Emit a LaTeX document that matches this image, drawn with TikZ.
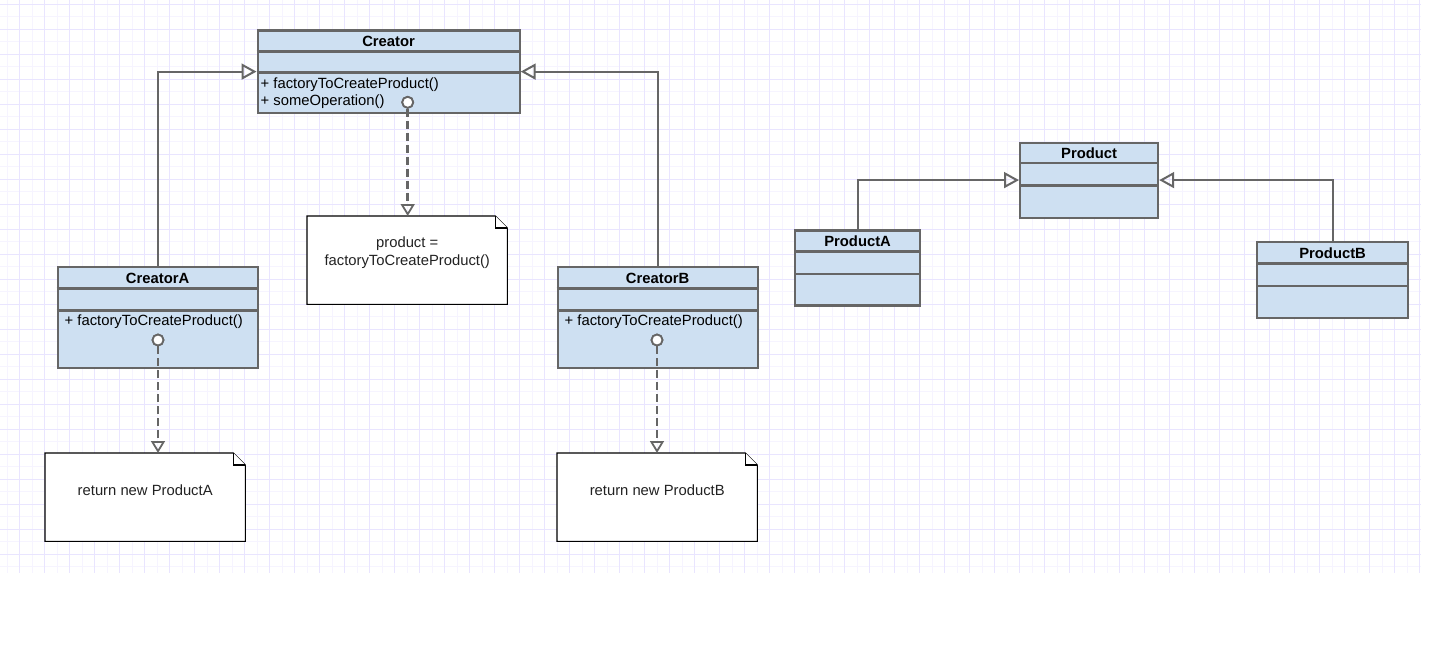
\documentclass[tikz,border=0pt]{standalone}
\usepackage{fontspec}
\setmainfont{Liberation Sans}
\usetikzlibrary{arrows.meta}
\definecolor{clsfill}{RGB}{206,224,242}
\definecolor{clsline}{RGB}{102,102,102}
\definecolor{gridminor}{RGB}{246,244,255}
\definecolor{gridmajor}{RGB}{233,229,255}
\definecolor{notetext}{RGB}{34,34,34}
\newcommand{\notefold}[1]{%
  \draw[noteline] (#1.north west) -- ([xshift=-12pt]#1.north east) -- ([yshift=-12pt]#1.north east) -- (#1.south east) -- (#1.south west) -- cycle;
  \draw[noteline] ([xshift=-12pt]#1.north east) -- ([xshift=-12pt,yshift=-12pt]#1.north east) -- ([yshift=-12pt]#1.north east);}
\begin{document}
\begin{tikzpicture}[x=1pt,y=-1pt,
  cls/.style={draw=clsline, line width=2.2pt, fill=clsfill, rectangle, inner sep=0pt, anchor=north west},
  sep/.style={draw=clsline, line width=2.2pt},
  ttl/.style={font=\fontsize{14.8}{17}\selectfont\bfseries, inner sep=0pt},
  mth/.style={font=\fontsize{14.8}{17}\selectfont, inner sep=0pt, anchor=west},
  note/.style={rectangle, inner sep=0pt, anchor=north west, minimum width=200pt, minimum height=88pt},
  noteline/.style={draw=black, line width=1.1pt, fill=white, line join=miter},
  ntext/.style={font=\fontsize{14.8}{18.4}\selectfont, text=notetext, align=center, inner sep=0pt},
  gen/.style={draw=clsline, line width=2pt, -{Triangle[open, length=15pt, width=16pt]}},
  dep/.style={draw=clsline, line width=2.5pt, dash pattern=on 8pt off 4pt, -{Triangle[open, length=12pt, width=14pt, line width=1.8pt]}},
  circ/.style={circle, draw=clsline, line width=1.8pt, fill=white, minimum size=11pt, inner sep=0pt}]
\useasboundingbox[fill=white] (0,0) rectangle (1431,669);
% grid
\foreach \k in {0,...,113} {\ifodd\k\relax\else\draw[gridminor,line width=1pt] (7.3+12.5*\k,0) -- (7.3+12.5*\k,572.7);\fi}
\foreach \k in {0,...,45} {\ifodd\k\relax\draw[gridminor,line width=1pt] (0,4.2+12.5*\k) -- (1421,4.2+12.5*\k);\fi}
\foreach \k in {0,...,113} {\ifodd\k\relax\draw[gridmajor,line width=1pt] (7.3+12.5*\k,0) -- (7.3+12.5*\k,572.7);\fi}
\foreach \k in {0,...,45} {\ifodd\k\relax\else\draw[gridmajor,line width=1pt] (0,4.2+12.5*\k) -- (1421,4.2+12.5*\k);\fi}

% Creator
\node[cls, minimum width=262pt, minimum height=82pt] (creator) at (256.5,29.5) {};
\node[ttl] (creatorT) at ([yshift=-11.5pt]creator.north) {Creator};
\draw[sep] ([yshift=-22pt]creator.north west) -- ([yshift=-22pt]creator.north east);
\draw[sep] ([yshift=-43pt]creator.north west) -- ([yshift=-43pt]creator.north east);
\node[mth] (creatorM1) at ([xshift=4pt,yshift=-55.5pt]creator.north west) {+ factoryToCreateProduct()};
\node[mth] (creatorM2) at ([xshift=4pt,yshift=-72pt]creator.north west) {+ someOperation()};

% CreatorA
\node[cls, minimum width=200pt, minimum height=101pt] (creatorA) at (56.5,265.5) {};
\node[ttl] (creatorAT) at ([yshift=-12.5pt]creatorA.north) {CreatorA};
\draw[sep] ([yshift=-23pt]creatorA.north west) -- ([yshift=-23pt]creatorA.north east);
\draw[sep] ([yshift=-45pt]creatorA.north west) -- ([yshift=-45pt]creatorA.north east);
\node[mth] (creatorAM) at ([xshift=8pt,yshift=-56pt]creatorA.north west) {+ factoryToCreateProduct()};

% CreatorB
\node[cls, minimum width=200pt, minimum height=101pt] (creatorB) at (556.5,265.5) {};
\node[ttl] (creatorBT) at ([yshift=-12.5pt]creatorB.north) {CreatorB};
\draw[sep] ([yshift=-23pt]creatorB.north west) -- ([yshift=-23pt]creatorB.north east);
\draw[sep] ([yshift=-45pt]creatorB.north west) -- ([yshift=-45pt]creatorB.north east);
\node[mth] (creatorBM) at ([xshift=8pt,yshift=-56pt]creatorB.north west) {+ factoryToCreateProduct()};

% Product
\node[cls, minimum width=138pt, minimum height=75pt] (product) at (1019,141.5) {};
\node[ttl] (productT) at ([yshift=-11.5pt]product.north) {Product};
\draw[sep] ([yshift=-21.5pt]product.north west) -- ([yshift=-21.5pt]product.north east);
\draw[sep] ([yshift=-44pt]product.north west) -- ([yshift=-44pt]product.north east);

% ProductA
\node[cls, minimum width=125pt, minimum height=75pt] (productA) at (794,229.3) {};
\node[ttl] (productAT) at ([yshift=-11.5pt]productA.north) {ProductA};
\draw[sep] ([yshift=-22.2pt]productA.north west) -- ([yshift=-22.2pt]productA.north east);
\draw[sep] ([yshift=-44.5pt]productA.north west) -- ([yshift=-44.5pt]productA.north east);

% ProductB
\node[cls, minimum width=151pt, minimum height=76pt] (productB) at (1256,241) {};
\node[ttl] (productBT) at ([yshift=-12pt]productB.north) {ProductB};
\draw[sep] ([yshift=-22.5pt]productB.north west) -- ([yshift=-22.5pt]productB.north east);
\draw[sep] ([yshift=-44.7pt]productB.north west) -- ([yshift=-44.7pt]productB.north east);

% generalizations
\draw[gen] (creatorA.north) |- (creator.west);
\draw[gen] (creatorB.north) |- (creator.east);
\draw[gen] (productA.north) |- (product.west);
\draw[gen] (productB.north) |- (product.east);

% notes
\node[note] (nC) at (307,216) {};
\notefold{nC}
\node[ntext] (tC) at ([yshift=7.5pt]nC.center) {product =\\factoryToCreateProduct()};
\node[note] (nA) at (45,453) {};
\notefold{nA}
\node[ntext] (tA) at ([yshift=7pt]nA.center) {return new ProductA};
\node[note] (nB) at (557,453) {};
\notefold{nB}
\node[ntext] (tB) at ([yshift=7pt]nB.center) {return new ProductB};

% dependency connectors
\node[circ] (cC) at (407.7,102.3) {};
\node[circ] (cA) at (158,340) {};
\node[circ] (cB) at (657,340) {};
\draw[dep] (cC.south) -- (cC |- nC.north);
\draw[dep] (cA.south) -- (cA |- nA.north);
\draw[dep] (cB.south) -- (cB |- nB.north);
\node[circ] at (cC) {};
\node[circ] at (cA) {};
\node[circ] at (cB) {};
\end{tikzpicture}
\end{document}
